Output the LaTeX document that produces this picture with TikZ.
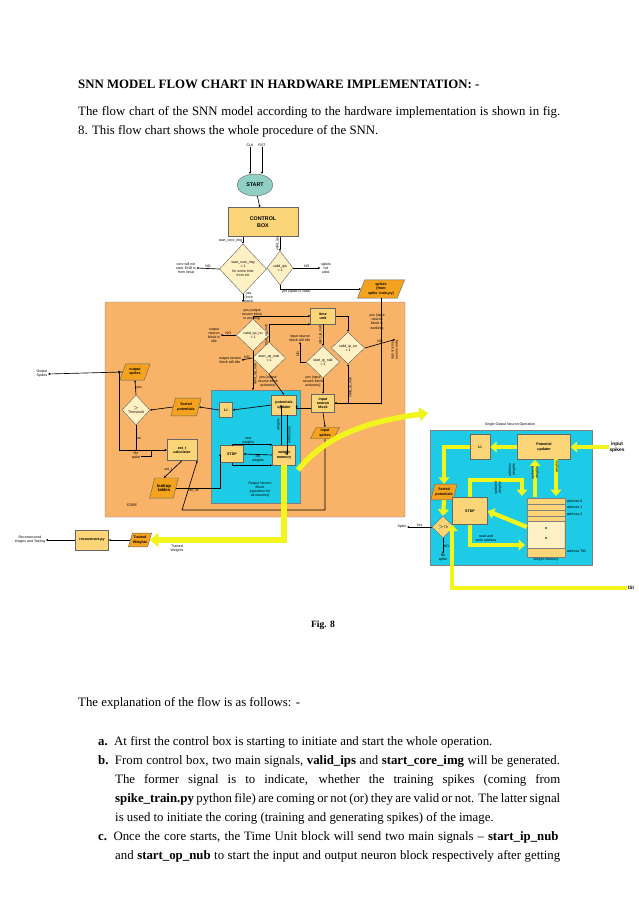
\documentclass[tikz,border=0pt]{standalone}
\usepackage{fontspec}
\setmainfont{Liberation Serif}
\newfontfamily\dsans{Liberation Sans}
\usetikzlibrary{shapes.geometric, arrows.meta}
\definecolor{coreor}{HTML}{F8B368}
\definecolor{boxy}{HTML}{FBD577}
\definecolor{decy}{HTML}{FFF1C4}
\definecolor{parao}{HTML}{F5A31F}
\definecolor{cyanb}{HTML}{1DCBE6}
\definecolor{yarr}{HTML}{F2F51C}
\definecolor{startc}{HTML}{8FCFC4}
\newcommand{\ft}{\dsans\fontsize{3.3}{3.8}\selectfont}
\newcommand{\fb}{\dsans\bfseries\fontsize{3.4}{3.9}\selectfont}
\newcommand{\fl}[2]{\makebox[#1][s]{#2}}

\begin{document}
\begin{tikzpicture}[x={(0.0329cm,0)}, y={(0,-0.0329cm)},
    >={Stealth[length=2pt,width=2pt]},
    box/.style={rectangle, draw=black!60, fill=boxy, inner sep=0.5pt, align=center, font=\fb},
    dec/.style={diamond, draw=black!60, fill=decy, inner sep=0pt, align=center, font=\ft},
    para/.style={trapezium, trapezium left angle=65, trapezium right angle=115, draw=black!60,
        fill=parao, inner sep=0.5pt, align=center, font=\fb, trapezium stretches=true},
    lbl/.style={font=\ft, align=center, inner sep=0.5pt},
    conn/.style={->, line width=0.6pt},
    yar/.style={-{Triangle[length=6pt,width=10pt]}, line width=4pt, draw=yarr},
    para text/.style={anchor=west, inner sep=0pt, font=\fontsize{12}{14}\selectfont}
]
\useasboundingbox[fill=white] (0,0) rectangle (638,902);

% page text
\node[para text, font=\bfseries\fontsize{12}{14}\selectfont] (head) at (78,84) {SNN MODEL FLOW CHART IN HARDWARE IMPLEMENTATION: -};
\node[para text] (p1) at (78,112) {\fl{15.86cm}{The flow chart of the SNN model according to the hardware implementation is shown in fig.}};
\node[para text] (p2) at (78,131) {8. This flow chart shows the whole procedure of the SNN.};

% top part
\node[lbl] (clk) at (250,145) {CLK};
\node[lbl] (rst) at (262,145) {RST};
\node[ellipse, draw=black!60, fill=startc, minimum width=1.18cm, minimum height=0.72cm, inner sep=0pt, font=\dsans\bfseries\fontsize{5}{6}\selectfont] (start) at (255,185) {START};
\node[box, minimum width=2.3cm, minimum height=0.95cm, font=\dsans\bfseries\fontsize{5}{6}\selectfont] (ctrl) at (263,222) {CONTROL\\BOX};
\node[dec, minimum width=1.55cm, minimum height=1.65cm] (dcore) at (243,269) {start\_core\_img\\= 1\\[1pt]for some time\\from init};
\node[dec, minimum width=0.86cm, minimum height=1.12cm] (dips) at (280,268) {valid\_ips\\= 1};
\node[lbl] (endt) at (186,268) {core will not\\start, END is\\from initial};
\node[lbl] (spnv) at (326,268) {spikes\\not\\valid.};
\node[para, minimum width=1.55cm, minimum height=0.6cm] (spk) at (381,289) {spikes\\(from\\spike\_train.py)};
\draw[conn] (clk) -- (clk|-start.north);
\draw[conn] (rst) -- (rst|-start.north);
\draw[conn] (start) -- (ctrl);
\draw[conn] (243,237) -- node[lbl, left]{start\_core\_img} (dcore.north);
\draw[conn] (280,237) -- node[lbl, right, rotate=90, anchor=south]{valid\_ips} (dips.north);
\draw[conn] (dcore.west) -- node[lbl, above]{NO} (endt.east);
\draw[conn] (dips.east) -- node[lbl, above]{NO} (spnv.west);
\draw[conn] (dips.south) |- node[lbl, below, pos=0.6]{yes (spike is valid)} (spk.west);
\draw[conn] (dcore.south) -- node[lbl, right]{yes\\(core\\starts)} (243,302);

% core
\draw[draw=black!50, fill=coreor, rounded corners=1pt] (105,302) rectangle (405,517);
\node[lbl] (core) at (132,505) {CORE};
\node[box, minimum width=0.82cm, minimum height=0.53cm] (tu) at (323,316) {time\\unit};
\node[dec, minimum width=1.1cm, minimum height=1.05cm] (vop) at (253,335) {valid\_op\_nu\\= 1};
\node[dec, minimum width=1.1cm, minimum height=1.05cm] (sop) at (269,358) {start\_op\_nub\\= 1};
\node[dec, minimum width=1.1cm, minimum height=1.05cm] (sip) at (323,362) {start\_ip\_nub\\= 1};
\node[dec, minimum width=1.1cm, minimum height=1.05cm] (vip) at (348,348) {valid\_ip\_nu\\= 1};
\node[box, minimum width=0.76cm, minimum height=0.6cm] (inb) at (323,403) {input\\neuron\\block};
\node[para, minimum width=0.95cm, minimum height=0.38cm] (insp) at (325,433) {input\\spikes};
\node[lbl] (opidle) at (214,335) {output\\neuron\\block is\\idle};
\node[lbl] (opstill) at (230,360) {output neuron\\block still idle};
\node[lbl] (ipstill) at (300,338) {input neuron\\block still idle};
\node[lbl, rotate=-90] (ipidle) at (395,350) {input neuron\\block is idle};
\node[lbl] at (252,315) {yes (output\\neuron block\\is working)};
\node[lbl] at (377,322) {yes (input\\neuron\\block is\\working)};
\node[lbl] at (268,382) {yes (output\\neuron block\\activates)};
\node[lbl] at (313,382) {yes (input\\neuron block\\activates)};
\draw[conn] (vop.west) -- node[lbl, above]{NO} (opidle.east);
\draw[conn] (sop.west) -- node[lbl, above]{NO} (opstill.east);
\draw[conn] (vip.east) -- node[lbl, above]{NO} (ipidle.west);
\draw[conn] (sip.west) -| node[lbl, above, pos=0.7, rotate=90]{NO} (ipstill.south);
\draw[conn] (vop.north) |- (tu.west);
\draw[conn] (tu.east) -| (vip.north);
\draw[conn] (tu.south) -- node[lbl, right, rotate=90, anchor=south]{start\_ip\_nub} (sip.north);
\draw[conn] (sop.north) |- node[lbl, pos=0.2, rotate=90, anchor=south]{start\_op\_nub} (tu.south west);
\draw[conn] (sip.south) -- (inb.north);
\draw[conn] (inb.east) -| node[lbl, pos=0.7, rotate=90, anchor=north]{valid\_ip\_nub} (vip.south);
\draw[conn] (spk.south) |- (inb.east);
\draw[conn] (inb.south) -- (insp.north);

% output neuron block
\draw[draw=black!50, fill=cyanb] (211,390) rectangle (300,503);
\node[box, minimum width=0.43cm, minimum height=0.5cm] (li) at (226,410) {LI};
\node[box, minimum width=0.82cm, minimum height=0.66cm] (pu) at (284,405) {potentials\\updater};
\node[box, minimum width=0.76cm, minimum height=0.56cm] (stdp) at (232,454) {STDP};
\node[box, minimum width=0.76cm, minimum height=0.66cm] (wm) at (284,455) {weight\\memory};
\node[lbl] at (260,490) {Output Neuron\\Block\\(operation for\\all neurons)};
\draw[conn] (sop.south) -- (pu.north);
\draw[conn] (pu.west) -- (li.east);
\draw[conn] (inb.west) ++(0,5) -| (pu.east);
\draw[conn] (wm.north) ++(-3,0) -- node[lbl, rotate=90, anchor=south]{weights} ++(0,-40);
\draw[conn] (pu.south) ++(3,0) -- node[lbl, rotate=90, anchor=north]{addresses} ++(0,40);
\draw[conn] (wm.west) -- node[lbl, below]{old\\weights} (stdp.east);
\draw[conn] (stdp.north) |- node[lbl, above, pos=0.7]{new\\weights} (wm.north west);
\draw[conn] (stdp.south) |- (wm.south west);
\draw[conn] (vop.south) -- node[lbl, rotate=90, anchor=north, pos=0.6]{valid\_op\_nub} (253,390);

% left side of core
\node[para, minimum width=1cm, minimum height=0.58cm] (sp) at (186,407) {Sorted\\potentials};
\node[dec, minimum width=0.92cm, minimum height=0.99cm] (thr) at (136,410) {$>$\\Threshold};
\node[para, minimum width=1cm, minimum height=0.53cm] (osp) at (135,372) {output\\spikes};
\node[lbl] (nosp) at (136,456) {No\\spike};
\node[box, minimum width=0.99cm, minimum height=0.69cm] (ext) at (182,450) {ext\_t\\calculator};
\node[para, minimum width=0.95cm, minimum height=0.66cm, font=\dsans\bfseries\fontsize{4}{4.6}\selectfont] (lut) at (164,488) {lookup\\tables};
\node[lbl] (outs) at (42,374) {Output\\Spikes};
\draw[conn] (li.west) -- (sp.east);
\draw[conn] (sp.west) -- (thr.east);
\draw[conn] (thr.north) -- node[lbl, right]{yes} (osp.south);
\draw[conn] (thr.south) -- node[lbl, right]{no} (nosp.north);
\draw[conn] (nosp.east) -| ++(10,0) |- (ext.west);
\draw[conn] (ext.south) -- node[lbl, left]{ext\_t} (lut.north);
\draw[conn] (lut.east) -| node[lbl, below, pos=0.2]{del\_W} (stdp.west);
\draw[conn] (insp.south) |- (182,510) -- (ext.south east);
\draw[conn] (osp.west) -- (outs.east);
\fill (119,372) circle (1.3pt);
\draw[conn] (119,372) |- (ext.west);

% right block
\node[lbl] (sont) at (510,425) {Single Output Neuron Operation};
\draw[draw=black!50, fill=cyanb] (430,430) rectangle (592,565);
\node[box, minimum width=0.66cm, minimum height=0.82cm] (rli) at (480,447) {LI};
\node[box, minimum width=1.74cm, minimum height=0.82cm] (rpu) at (544,447) {Potential\\updater};
\node[para, minimum width=0.75cm, minimum height=0.52cm] (rsp) at (444,492) {Sorted\\potentials};
\node[box, minimum width=1.15cm, minimum height=0.89cm] (rstdp) at (470,511) {STDP};
\node[dec, fill=boxy, minimum width=0.72cm, minimum height=0.72cm] (rthr) at (443,527) {$>$Th};
\fill[boxy, draw=black!50] (527,498) rectangle (565,557);
\fill[decy] (528,521) rectangle (564,548);
\draw[black!50] (527,504) -- (565,504) (527,510) -- (565,510) (527,516) -- (565,516) (527,521) -- (565,521) (527,548) -- (565,548);
\fill (546,528) circle (0.9pt) (546,538) circle (0.9pt);
\node[lbl, anchor=west] (a0) at (566,501) {address 0};
\node[lbl, anchor=west] at (566,507) {address 1};
\node[lbl, anchor=west] at (566,514) {address 2};
\node[lbl, anchor=west] at (566,551) {address 783};
\node[lbl] (wmem) at (546,560) {Weight Memory};
\node (wmb) at (546,527) [minimum width=1.25cm, minimum height=1.9cm, inner sep=0pt] {};
\node[lbl] (rspk) at (402,527) {Spike};
\node[lbl] (rnos) at (443,558) {No\\spike};
\node[lbl, font=\dsans\bfseries\fontsize{4.5}{5.5}\selectfont] (rins) at (617,447) {input\\spikes};
\node[lbl, font=\dsans\bfseries\fontsize{4.5}{5.5}\selectfont] (isi) at (631,588) {ISI};
\draw[yar] (rins.west) -- (rpu.east);
\draw[yar] (rpu.west) -- (rli.east);
\draw[yar] (rli.west) -| (rsp.north);
\draw[yar] (rsp.south) -- (rthr.north);
\draw[yar] (wmb.west) -- (rstdp.east);
\draw[yar] (rstdp.north) |- (522,480) -- (522,496);
\draw[yar] (rstdp.south) |- (525,545);
\draw[yar] (535,497) -- (rpu.south-|535,0);
\draw[yar] (556,459) -- (556,496);
\draw[yar] (isi.west) -| (rstdp.south west);
\draw[conn] (rthr.west) -- node[lbl, above]{Yes} (rspk.east);
\draw[conn] (rthr.south) -- node[lbl, right]{NO} (rnos.north);
\node[lbl, rotate=90] at (512,470) {address\\weights};
\node[lbl, rotate=90] at (535,473) {updated\\weights};
\node[lbl, rotate=90] at (557,467) {weights};
\node[lbl, rotate=90] at (498,488) {updated\\weights};
\node[lbl] at (486,538) {read and\\write address};

% big arrows and output side
\draw[yar, line width=5pt, -{Triangle[length=8pt,width=13pt]}] (298,470) .. controls (330,430) and (380,420) .. (428,413);
\node[para, minimum width=0.62cm, minimum height=0.45cm] (tw) at (140,540) {Trained\\Weights};
\node[box, minimum width=1.08cm, minimum height=0.66cm] (rec) at (92,540) {reconstruct.py};
\node[lbl] (recimg) at (30,540) {Reconstructed\\images and Testing};
\node[lbl] at (177,549) {Trained\\Weights};
\draw[yar, line width=5pt, -{Triangle[length=8pt,width=13pt]}] (wm.south) |- (tw.east);
\draw[conn] (tw.west) -- (rec.east);
\draw[conn] (rec.west) -- (recimg.east);

\node[font=\bfseries\fontsize{9}{10}\selectfont] (fig) at (323,625) {Fig. 8};

% explanation text
\node[para text] (e0) at (78,703) {The explanation of the flow is as follows: -};
\node[para text] (ea) at (98,742) {\textbf{a.}\hspace{6pt}At first the control box is starting to initiate and start the whole operation.};
\node[para text] (eb) at (98,761) {\textbf{b.}\hspace{6pt}\fl{14.64cm}{From control box, two main signals, \textbf{valid\_ips} and \textbf{start\_core\_img} will be generated.}};
\node[para text] (eb2) at (115,780) {\fl{14.64cm}{The former signal is to indicate, whether the training spikes (coming from}};
\node[para text] (eb3) at (115,799) {\fl{14.64cm}{\textbf{spike\_train.py} python file) are coming or not (or) they are valid or not. The latter signal}};
\node[para text] (eb4) at (115,818) {is used to initiate the coring (training and generating spikes) of the image.};
\node[para text] (ec) at (98,837) {\textbf{c.}\hspace{6pt}\fl{14.64cm}{Once the core starts, the Time Unit block will send two main signals -- \textbf{start\_ip\_nub}}};
\node[para text] (ec2) at (115,856) {\fl{14.64cm}{and \textbf{start\_op\_nub} to start the input and output neuron block respectively after getting}};
\end{tikzpicture}
\end{document}
